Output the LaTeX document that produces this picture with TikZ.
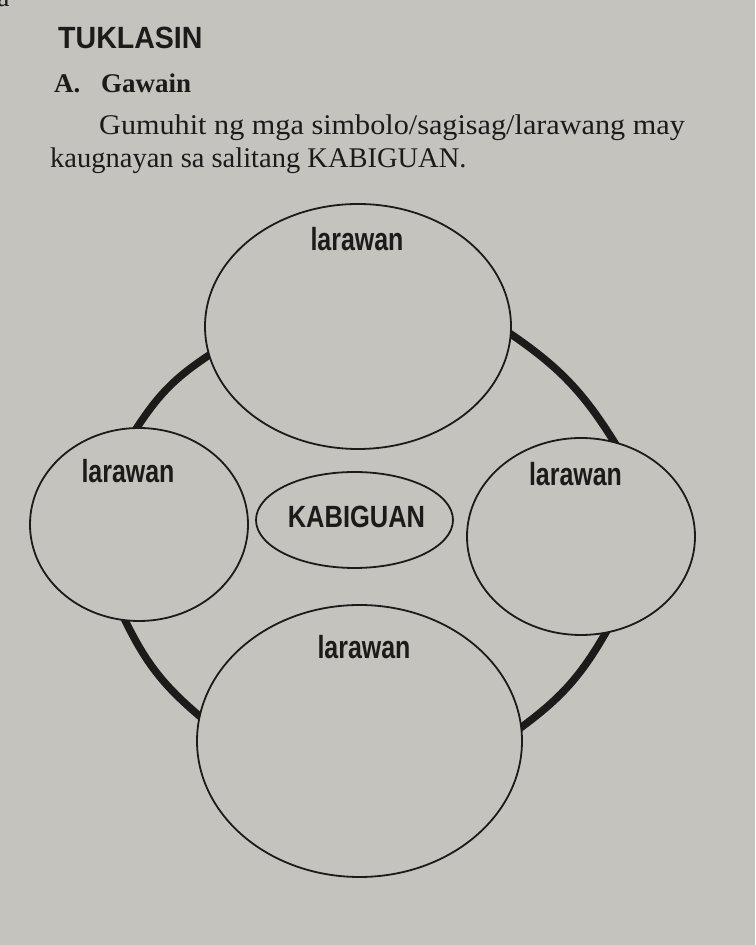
\documentclass[tikz,border=0pt]{standalone}
\usepackage{graphicx}
\usepackage{fontspec}
\setmainfont{Liberation Serif}
\newfontfamily\headsans[FakeStretch=0.93]{Liberation Sans}
\newfontfamily\labsans[FakeStretch=0.78]{Liberation Sans}
\newfontfamily\keysans[FakeStretch=0.83]{Liberation Sans}
\usetikzlibrary{shapes.geometric,backgrounds}
\definecolor{paper}{RGB}{196,195,190}
\definecolor{ink}{RGB}{28,27,26}
\tikzset{
  bubble/.style={ellipse, draw=ink, line width=1.8pt, fill=paper, inner sep=0pt},
  larlabel/.style={anchor=base, inner sep=0pt, text=ink, font=\labsans\bfseries\fontsize{32}{36}\selectfont},
  linkarc/.style={draw=ink, line width=7.5pt, line cap=butt, bend left=12, shorten <=-4pt, shorten >=-4pt},
  bodytext/.style={anchor=base west, inner sep=0pt, text=ink, font=\fontsize{28.5}{34}\selectfont},
}
\begin{document}
\begin{tikzpicture}[x=1pt,y=1pt]
\useasboundingbox (0,0) rectangle (755,945);
% header texts
\node[anchor=base west, inner sep=0pt, text=ink, font=\fontsize{28}{32}\selectfont] (frag) at (-3,938) {a};
\node[anchor=base west, inner sep=0pt, text=ink, font=\headsans\bfseries\fontsize{30.7}{34}\selectfont] (title) at (58,896) {TUKLASIN};
\node[anchor=base west, inner sep=0pt, text=ink, font=\bfseries\fontsize{27}{30}\selectfont] (secA) at (54,852) {A.};
\node[anchor=base west, inner sep=0pt, text=ink, font=\bfseries\fontsize{27}{30}\selectfont] (secT) at (101,852) {Gawain};
\node[bodytext] (line1) at (99,810) {\scalebox{1.06}[1]{Gumuhit ng mga simbolo/sagisag/larawang may}};
\node[bodytext] (line2) at (50,777) {kaugnayan sa salitang KABIGUAN.};
% bubbles
\node[bubble, minimum width=306pt, minimum height=245pt] (T) at (358,618.5) {};
\node[bubble, minimum width=218pt, minimum height=193pt] (L) at (139,420.5) {};
\node[bubble, minimum width=228pt, minimum height=197pt] (R) at (581,408.5) {};
\node[bubble, minimum width=325pt, minimum height=272pt] (B) at (359.5,204) {};
\node[bubble, minimum width=197pt, minimum height=96pt] (K) at (354.5,425) {};
% labels
\node[larlabel] (lt) at (357,694) {larawan};
\node[larlabel] (ll) at (128,462) {larawan};
\node[larlabel] (lr) at (575.5,459) {larawan};
\node[larlabel] (lb) at (364,286) {larawan};
\node[anchor=base, inner sep=0pt, text=ink, font=\keysans\bfseries\fontsize{30.7}{34}\selectfont] (kt) at (356.5,417) {KABIGUAN};
% background + connecting arcs
\begin{scope}[on background layer]
\fill[paper] (0,0) rectangle (755,945);
\draw[linkarc] (L.91) to (T.191.7);
\draw[linkarc] (T.357) to (R.71.8);
\draw[linkarc] (R.284.8) to (B.5.6);
\draw[linkarc] (B.171.5) to (L.262.8);
\end{scope}
\end{tikzpicture}
\end{document}
